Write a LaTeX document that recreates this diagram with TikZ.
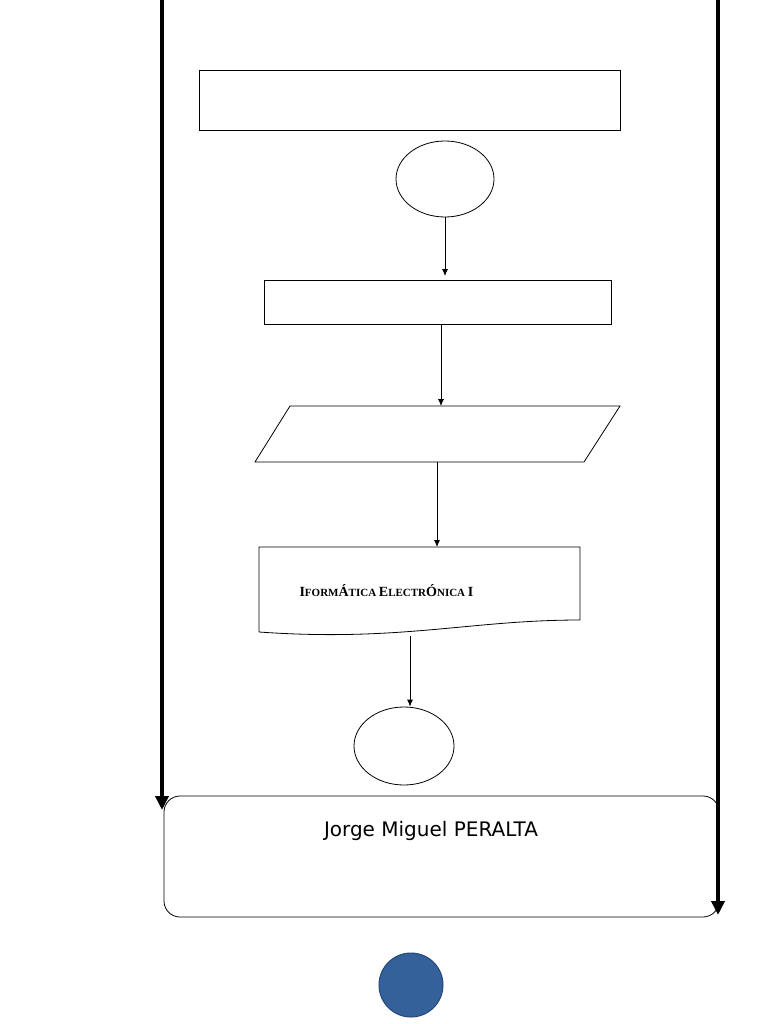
\documentclass[tikz,border=0pt]{standalone}
\usepackage{fontspec}
\newfontfamily\namefont{DejaVu Sans}
\newfontfamily\docfont{Liberation Serif}
\usetikzlibrary{arrows.meta,shapes.geometric}
\definecolor{ballblue}{HTML}{35619A}
\definecolor{ballrim}{HTML}{24477A}
\newcommand{\bigc}[1]{{\fontsize{14}{16}\selectfont #1}}
\begin{document}
\begin{tikzpicture}[x=1pt,y=-1pt,
  box/.style={draw,line width=0.8pt},
  flow/.style={-{Latex[length=7pt,width=6pt]},line width=0.8pt},
  thick arrow/.style={-{Triangle[length=14pt,width=13pt]},line width=4pt}]
\useasboundingbox (0,0) rectangle (768,1024);
\fill[white] (0,0) rectangle (768,1024);
\node[box,minimum width=421pt,minimum height=60pt] (title) at (409.5,100) {};
\node[box,ellipse,minimum width=98pt,minimum height=76pt,inner sep=0pt] (start) at (445,179) {};
\node[box,minimum width=347pt,minimum height=44pt] (proc) at (437.5,302) {};
\draw[box] (290,406) -- (620,406) -- (584,462) -- (255,462) -- cycle;
\coordinate (ioTop) at (441,406);
\coordinate (ioBot) at (437,462);
\draw[box] (259,632) -- (259,547) -- (580,547) -- (580,620)
  .. controls (470,620) and (400,642) .. (259,632);
\coordinate (docTop) at (437,547);
\coordinate (docBot) at (410,636);
\node[anchor=west,font=\docfont\bfseries\fontsize{11}{13}\selectfont] (doctext) at (296,591) {\bigc{I}FORM\bigc{Á}TICA \bigc{E}LECTR\bigc{Ó}NICA \bigc{I}};
\node[box,ellipse,minimum width=100pt,minimum height=78pt,inner sep=0pt] (end) at (404,746) {};
\node[box,rounded corners=16pt,minimum width=555pt,minimum height=121pt] (foot) at (441.5,856.5) {};
\node[font=\namefont\fontsize{20}{24}\selectfont] (name) at (431,831) {Jorge Miguel PERALTA};
\coordinate (lt) at (162,0); \coordinate (lb) at (162,810);
\coordinate (rt) at (718,0); \coordinate (rb) at (718,915);
\draw[thick arrow] (lt) -- (lb);
\draw[thick arrow] (rt) -- (rb);
\draw[flow] (start.south) -- (445,276);
\draw[flow] (441,324) -- (ioTop);
\draw[flow] (ioBot) -- (docTop);
\draw[flow] (docBot) -- (end.north -| docBot);
\node[circle,fill=ballblue,draw=ballrim,line width=1pt,minimum size=64pt] (ball) at (411,985) {};
\end{tikzpicture}
\end{document}
